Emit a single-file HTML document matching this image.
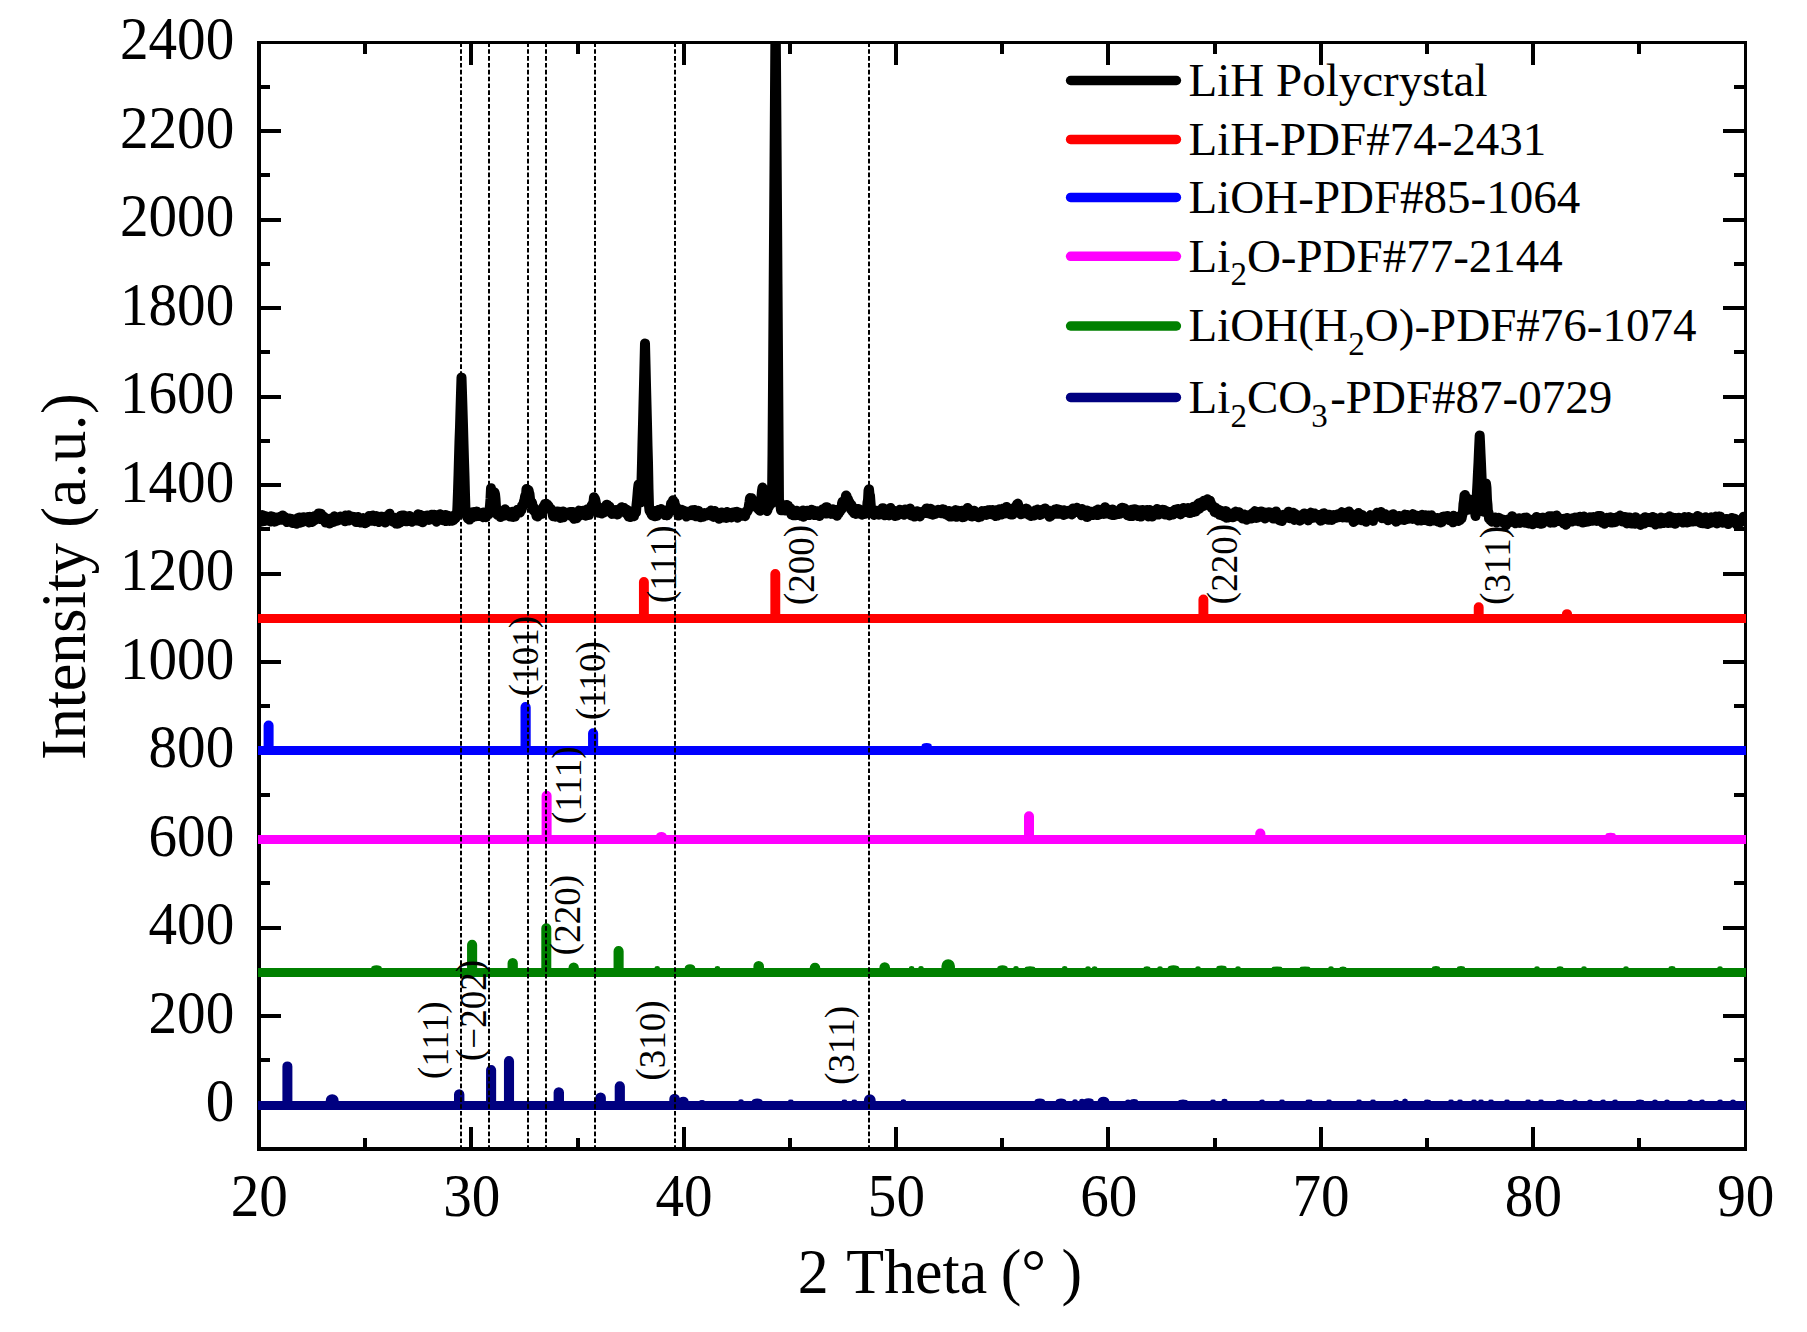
<!DOCTYPE html>
<html><head><meta charset="utf-8"><title>XRD</title>
<style>html,body{margin:0;padding:0;background:#fff}svg{display:block}</style></head>
<body>
<svg width="1807" height="1332" viewBox="0 0 1807 1332" font-family='"Liberation Serif", serif' fill="#000">
<rect x="0" y="0" width="1807" height="1332" fill="#fff"/>
<defs><clipPath id="cp"><rect x="258.0" y="41.0" width="1488.0" height="1110.0"/></clipPath></defs>
<path d="M257 41H1747V1151H257Z M261 44V1147H1744V44Z" fill="#000" fill-rule="evenodd" shape-rendering="crispEdges"/>
<path d="M363 1138h4V1148h-4Z M363 43h4V54h-4Z M469 1127h4V1148h-4Z M469 43h4V65h-4Z M576 1138h4V1148h-4Z M576 43h4V54h-4Z M682 1127h4V1148h-4Z M682 43h4V65h-4Z M788 1138h4V1148h-4Z M788 43h4V54h-4Z M894 1127h4V1148h-4Z M894 43h4V65h-4Z M1000 1138h4V1148h-4Z M1000 43h4V54h-4Z M1106 1127h4V1148h-4Z M1106 43h4V65h-4Z M1213 1138h4V1148h-4Z M1213 43h4V54h-4Z M1319 1127h4V1148h-4Z M1319 43h4V65h-4Z M1425 1138h4V1148h-4Z M1425 43h4V54h-4Z M1531 1127h4V1148h-4Z M1531 43h4V65h-4Z M1637 1138h4V1148h-4Z M1637 43h4V54h-4Z M260 1103v4H281v-4Z M1723 1103v4H1745v-4Z M260 1058v4H270v-4Z M1734 1058v4H1745v-4Z M260 1014v4H281v-4Z M1723 1014v4H1745v-4Z M260 970v4H270v-4Z M1734 970v4H1745v-4Z M260 926v4H281v-4Z M1723 926v4H1745v-4Z M260 881v4H270v-4Z M1734 881v4H1745v-4Z M260 837v4H281v-4Z M1723 837v4H1745v-4Z M260 793v4H270v-4Z M1734 793v4H1745v-4Z M260 749v4H281v-4Z M1723 749v4H1745v-4Z M260 704v4H270v-4Z M1734 704v4H1745v-4Z M260 660v4H281v-4Z M1723 660v4H1745v-4Z M260 616v4H270v-4Z M1734 616v4H1745v-4Z M260 572v4H281v-4Z M1723 572v4H1745v-4Z M260 527v4H270v-4Z M1734 527v4H1745v-4Z M260 483v4H281v-4Z M1723 483v4H1745v-4Z M260 439v4H270v-4Z M1734 439v4H1745v-4Z M260 395v4H281v-4Z M1723 395v4H1745v-4Z M260 350v4H270v-4Z M1734 350v4H1745v-4Z M260 306v4H281v-4Z M1723 306v4H1745v-4Z M260 262v4H270v-4Z M1734 262v4H1745v-4Z M260 218v4H281v-4Z M1723 218v4H1745v-4Z M260 173v4H270v-4Z M1734 173v4H1745v-4Z M260 129v4H281v-4Z M1723 129v4H1745v-4Z M260 85v4H270v-4Z M1734 85v4H1745v-4Z" fill="#000" shape-rendering="crispEdges"/>
<g font-size="60.8" text-anchor="middle">
<text transform="translate(259.3 1216.2) scale(0.94 1)">20</text>
<text transform="translate(471.7 1216.2) scale(0.94 1)">30</text>
<text transform="translate(684.0 1216.2) scale(0.94 1)">40</text>
<text transform="translate(896.4 1216.2) scale(0.94 1)">50</text>
<text transform="translate(1108.7 1216.2) scale(0.94 1)">60</text>
<text transform="translate(1321.1 1216.2) scale(0.94 1)">70</text>
<text transform="translate(1533.4 1216.2) scale(0.94 1)">80</text>
<text transform="translate(1745.8 1216.2) scale(0.94 1)">90</text>
</g>
<g font-size="60.8" text-anchor="end">
<text transform="translate(234.2 1121.3) scale(0.94 1)">0</text>
<text transform="translate(234.2 1032.8) scale(0.94 1)">200</text>
<text transform="translate(234.2 944.3) scale(0.94 1)">400</text>
<text transform="translate(234.2 855.8) scale(0.94 1)">600</text>
<text transform="translate(234.2 767.3) scale(0.94 1)">800</text>
<text transform="translate(234.2 678.7) scale(0.94 1)">1000</text>
<text transform="translate(234.2 590.2) scale(0.94 1)">1200</text>
<text transform="translate(234.2 501.7) scale(0.94 1)">1400</text>
<text transform="translate(234.2 413.2) scale(0.94 1)">1600</text>
<text transform="translate(234.2 324.7) scale(0.94 1)">1800</text>
<text transform="translate(234.2 236.1) scale(0.94 1)">2000</text>
<text transform="translate(234.2 147.6) scale(0.94 1)">2200</text>
<text transform="translate(234.2 59.1) scale(0.94 1)">2400</text>
</g>
<text transform="translate(940.0 1292.8) scale(0.975 1)" font-size="63.5" text-anchor="middle" xml:space="preserve">2 <tspan dx="2.1">Theta</tspan><tspan dx="-2.1"> (° )</tspan></text>
<text transform="translate(85.2 576.3) rotate(-90) scale(0.975 1)" font-size="64" text-anchor="middle" xml:space="preserve"><tspan letter-spacing="-0.175">Intensity </tspan><tspan letter-spacing="0.6">(a.u.)</tspan></text>
<g clip-path="url(#cp)" fill="none" stroke-linejoin="round" stroke-linecap="butt">
<path d="M259.0 519.5 L259.5 521.4 L260.0 520.8 L260.5 522.0 L261.0 520.4 L261.5 518.2 L262.0 518.6 L262.5 515.1 L263.0 521.2 L263.5 516.8 L264.0 517.1 L264.5 521.1 L265.0 515.9 L265.5 517.0 L266.0 518.2 L266.5 517.5 L267.0 519.1 L267.5 519.6 L268.0 520.5 L268.5 519.2 L269.0 520.8 L269.5 518.8 L270.0 520.5 L270.5 521.5 L271.0 516.2 L271.5 519.0 L272.0 520.0 L272.5 516.7 L273.0 516.9 L273.5 520.9 L274.0 519.1 L274.5 521.7 L275.0 520.1 L275.5 519.9 L276.0 519.0 L276.5 519.6 L277.0 517.5 L277.5 518.1 L278.0 520.4 L278.5 518.3 L279.0 519.6 L279.5 518.5 L280.0 517.8 L280.5 516.5 L281.0 519.8 L281.5 516.6 L282.0 519.0 L282.5 515.5 L283.0 519.2 L283.5 519.8 L284.0 518.2 L284.5 516.8 L285.0 519.9 L285.5 520.6 L286.0 519.5 L286.5 519.2 L287.0 522.1 L287.5 520.0 L288.0 519.3 L288.5 521.5 L289.0 519.7 L289.5 518.4 L290.0 521.4 L290.5 519.1 L291.0 521.7 L291.5 518.9 L292.0 521.0 L292.5 523.0 L293.0 521.7 L293.5 521.9 L294.0 521.8 L294.5 522.6 L295.0 521.0 L295.5 521.6 L296.0 520.2 L296.5 523.7 L297.0 518.6 L297.5 521.7 L298.0 518.1 L298.5 520.8 L299.0 522.1 L299.5 517.5 L300.0 522.8 L300.5 517.9 L301.0 518.3 L301.5 520.6 L302.0 518.1 L302.5 522.1 L303.0 521.3 L303.5 517.2 L304.0 517.6 L304.5 518.8 L305.0 520.8 L305.5 517.9 L306.0 518.4 L306.5 520.8 L307.0 517.7 L307.5 520.1 L308.0 517.0 L308.5 521.5 L309.0 522.4 L309.5 517.7 L310.0 516.8 L310.5 516.9 L311.0 521.9 L311.5 519.1 L312.0 522.0 L312.5 517.4 L313.0 517.8 L313.5 519.0 L314.0 520.8 L314.5 517.9 L315.0 515.9 L315.5 518.0 L316.0 517.2 L316.5 517.7 L317.0 516.3 L317.5 515.3 L318.0 516.5 L318.5 513.4 L319.0 517.1 L319.5 518.9 L320.0 517.7 L320.5 514.9 L321.0 513.8 L321.5 519.2 L322.0 515.8 L322.5 516.5 L323.0 517.5 L323.5 516.3 L324.0 517.9 L324.5 521.1 L325.0 517.8 L325.5 522.5 L326.0 520.4 L326.5 520.7 L327.0 522.2 L327.5 522.3 L328.0 522.6 L328.5 521.7 L329.0 519.5 L329.5 523.5 L330.0 519.9 L330.5 518.4 L331.0 521.4 L331.5 520.6 L332.0 519.1 L332.5 519.1 L333.0 519.9 L333.5 521.9 L334.0 518.5 L334.5 516.3 L335.0 517.7 L335.5 519.9 L336.0 518.7 L336.5 517.9 L337.0 520.7 L337.5 520.7 L338.0 519.0 L338.5 519.9 L339.0 518.2 L339.5 518.2 L340.0 518.6 L340.5 516.6 L341.0 519.6 L341.5 518.8 L342.0 517.9 L342.5 519.1 L343.0 519.1 L343.5 517.5 L344.0 517.8 L344.5 517.4 L345.0 521.3 L345.5 515.6 L346.0 518.5 L346.5 520.2 L347.0 516.5 L347.5 516.7 L348.0 516.5 L348.5 515.2 L349.0 520.4 L349.5 517.7 L350.0 516.0 L350.5 516.9 L351.0 518.5 L351.5 517.7 L352.0 516.7 L352.5 519.4 L353.0 516.8 L353.5 517.7 L354.0 518.8 L354.5 517.1 L355.0 518.6 L355.5 517.3 L356.0 522.1 L356.5 518.0 L357.0 520.2 L357.5 517.4 L358.0 517.0 L358.5 519.0 L359.0 518.6 L359.5 518.6 L360.0 519.2 L360.5 520.8 L361.0 522.6 L361.5 522.6 L362.0 519.1 L362.5 522.5 L363.0 522.4 L363.5 518.1 L364.0 518.6 L364.5 519.4 L365.0 523.3 L365.5 519.6 L366.0 519.4 L366.5 522.4 L367.0 519.3 L367.5 519.2 L368.0 520.4 L368.5 519.4 L369.0 516.1 L369.5 516.4 L370.0 520.0 L370.5 515.9 L371.0 520.8 L371.5 518.2 L372.0 518.8 L372.5 518.7 L373.0 515.4 L373.5 516.8 L374.0 516.2 L374.5 518.7 L375.0 521.2 L375.5 518.1 L376.0 518.8 L376.5 516.1 L377.0 518.3 L377.5 518.6 L378.0 518.9 L378.5 520.4 L379.0 522.0 L379.5 519.4 L380.0 520.2 L380.5 516.7 L381.0 520.7 L381.5 519.6 L382.0 516.7 L382.5 520.2 L383.0 518.3 L383.5 521.5 L384.0 520.4 L384.5 519.6 L385.0 522.5 L385.5 518.7 L386.0 518.1 L386.5 518.3 L387.0 518.0 L387.5 515.7 L388.0 518.1 L388.5 517.5 L389.0 515.6 L389.5 513.7 L390.0 518.9 L390.5 519.3 L391.0 518.8 L391.5 519.3 L392.0 521.2 L392.5 518.8 L393.0 521.6 L393.5 518.6 L394.0 517.5 L394.5 519.5 L395.0 519.2 L395.5 520.9 L396.0 523.6 L396.5 521.1 L397.0 522.3 L397.5 523.6 L398.0 523.5 L398.5 520.1 L399.0 518.4 L399.5 522.8 L400.0 517.1 L400.5 515.9 L401.0 515.7 L401.5 520.8 L402.0 515.6 L402.5 517.8 L403.0 517.9 L403.5 520.6 L404.0 515.6 L404.5 518.4 L405.0 519.0 L405.5 521.3 L406.0 518.4 L406.5 519.5 L407.0 518.6 L407.5 521.2 L408.0 520.9 L408.5 518.2 L409.0 519.9 L409.5 515.9 L410.0 518.7 L410.5 516.8 L411.0 517.7 L411.5 520.3 L412.0 521.7 L412.5 518.8 L413.0 518.1 L413.5 517.6 L414.0 519.5 L414.5 517.6 L415.0 519.6 L415.5 520.5 L416.0 518.6 L416.5 516.7 L417.0 518.8 L417.5 516.1 L418.0 514.3 L418.5 519.7 L419.0 520.9 L419.5 520.2 L420.0 517.2 L420.5 515.0 L421.0 517.1 L421.5 520.1 L422.0 518.6 L422.5 522.3 L423.0 518.4 L423.5 521.0 L424.0 520.4 L424.5 520.2 L425.0 516.6 L425.5 518.6 L426.0 518.9 L426.5 517.4 L427.0 515.4 L427.5 516.9 L428.0 516.0 L428.5 518.6 L429.0 519.9 L429.5 518.7 L430.0 518.8 L430.5 517.7 L431.0 518.3 L431.5 514.8 L432.0 517.9 L432.5 519.3 L433.0 516.6 L433.5 518.9 L434.0 514.8 L434.5 517.9 L435.0 517.5 L435.5 518.9 L436.0 518.5 L436.5 521.7 L437.0 515.3 L437.5 515.6 L438.0 517.0 L438.5 518.3 L439.0 516.6 L439.5 516.2 L440.0 514.2 L440.5 514.3 L441.0 515.0 L441.5 519.5 L442.0 515.1 L442.5 520.2 L443.0 519.1 L443.5 516.7 L444.0 519.1 L444.5 519.7 L445.0 515.6 L445.5 515.1 L446.0 521.1 L446.5 516.7 L447.0 520.4 L447.5 520.1 L448.0 515.8 L448.5 520.0 L449.0 519.7 L449.5 520.9 L450.0 518.1 L450.5 518.8 L451.0 518.5 L451.5 517.2 L452.0 520.7 L452.5 519.4 L453.0 520.4 L453.5 518.0 L454.0 519.4 L454.5 515.1 L455.0 515.5 L455.5 518.2 L456.0 515.5 L456.5 514.8 L457.0 515.5 L457.5 505.1 L458.0 491.5 L458.5 475.3 L459.0 457.5 L459.5 440.4 L460.0 427.4 L460.5 409.9 L461.0 393.2 L461.5 377.4 L461.5 377.4 L462.0 393.0 L462.5 408.8 L463.0 425.4 L463.5 443.3 L464.0 460.5 L464.5 475.8 L465.0 494.7 L465.5 510.6 L466.0 514.0 L466.5 514.7 L467.0 516.9 L467.5 517.7 L468.0 518.5 L468.5 513.8 L469.0 513.3 L469.5 519.6 L470.0 515.6 L470.5 517.8 L471.0 515.7 L471.5 512.6 L472.0 517.6 L472.5 515.4 L473.0 517.0 L473.5 515.1 L474.0 511.9 L474.5 513.7 L475.0 515.7 L475.5 512.5 L476.0 514.2 L476.5 516.2 L477.0 511.6 L477.5 513.3 L478.0 514.4 L478.5 515.9 L479.0 514.0 L479.5 512.9 L480.0 515.5 L480.5 513.4 L481.0 515.5 L481.5 515.5 L482.0 514.5 L482.5 516.5 L483.0 517.2 L483.5 512.4 L484.0 515.9 L484.5 514.6 L485.0 514.3 L485.5 515.1 L486.0 517.2 L486.5 514.7 L487.0 514.4 L487.5 512.5 L488.0 514.5 L488.5 514.4 L489.0 511.4 L489.5 509.7 L490.0 505.3 L490.5 498.8 L491.0 488.2 L491.5 490.5 L492.0 494.0 L492.5 499.5 L493.0 501.3 L493.5 498.5 L494.0 493.5 L494.5 492.4 L495.0 494.1 L495.5 498.8 L496.0 506.8 L496.5 511.5 L497.0 512.4 L497.5 514.9 L498.0 512.4 L498.5 510.7 L499.0 513.8 L499.5 514.5 L500.0 516.7 L500.5 517.1 L501.0 514.4 L501.5 516.3 L502.0 515.8 L502.5 513.9 L503.0 514.8 L503.5 513.7 L504.0 515.7 L504.5 510.6 L505.0 509.2 L505.5 512.7 L506.0 514.2 L506.5 514.5 L507.0 511.6 L507.5 513.9 L508.0 512.0 L508.5 514.9 L509.0 512.5 L509.5 512.3 L510.0 516.5 L510.5 512.6 L511.0 512.4 L511.5 516.7 L512.0 515.4 L512.5 511.7 L513.0 517.0 L513.5 512.1 L514.0 513.2 L514.5 513.6 L515.0 516.6 L515.5 513.2 L516.0 514.7 L516.5 512.6 L517.0 513.6 L517.5 509.7 L518.0 512.1 L518.5 510.7 L519.0 509.5 L519.5 511.6 L520.0 512.6 L520.5 511.0 L521.0 508.9 L521.5 510.1 L522.0 505.7 L522.5 507.3 L523.0 506.2 L523.5 503.5 L524.0 501.3 L524.5 500.0 L525.0 496.7 L525.5 495.3 L526.0 495.3 L526.5 489.0 L527.0 493.6 L527.5 491.7 L528.0 491.4 L528.5 489.9 L529.0 492.5 L529.5 494.1 L530.0 498.7 L530.5 500.8 L531.0 504.0 L531.5 504.0 L532.0 502.5 L532.5 505.5 L533.0 508.0 L533.5 510.4 L534.0 507.8 L534.5 511.0 L535.0 512.1 L535.5 511.2 L536.0 512.4 L536.5 516.1 L537.0 513.2 L537.5 516.6 L538.0 514.1 L538.5 512.4 L539.0 514.9 L539.5 513.0 L540.0 513.6 L540.5 510.2 L541.0 513.7 L541.5 511.3 L542.0 513.8 L542.5 511.0 L543.0 509.0 L543.5 506.6 L544.0 507.5 L544.5 505.7 L545.0 503.9 L545.5 507.8 L546.0 503.8 L546.5 505.4 L547.0 506.4 L547.5 504.6 L548.0 505.4 L548.5 505.8 L549.0 507.4 L549.5 507.6 L550.0 508.5 L550.5 508.9 L551.0 509.0 L551.5 510.3 L552.0 511.0 L552.5 513.4 L553.0 516.2 L553.5 512.5 L554.0 513.4 L554.5 512.9 L555.0 514.7 L555.5 516.7 L556.0 514.1 L556.5 515.3 L557.0 511.5 L557.5 514.5 L558.0 515.7 L558.5 513.6 L559.0 511.7 L559.5 515.6 L560.0 514.5 L560.5 517.9 L561.0 513.6 L561.5 514.4 L562.0 513.9 L562.5 514.9 L563.0 511.5 L563.5 517.2 L564.0 515.8 L564.5 514.1 L565.0 513.7 L565.5 515.2 L566.0 514.8 L566.5 513.2 L567.0 513.7 L567.5 514.6 L568.0 513.2 L568.5 513.5 L569.0 513.4 L569.5 513.6 L570.0 511.9 L570.5 512.8 L571.0 515.4 L571.5 516.3 L572.0 515.0 L572.5 512.0 L573.0 512.6 L573.5 516.3 L574.0 518.8 L574.5 517.9 L575.0 515.2 L575.5 514.8 L576.0 514.5 L576.5 518.3 L577.0 515.2 L577.5 512.8 L578.0 516.0 L578.5 515.5 L579.0 510.6 L579.5 512.4 L580.0 515.4 L580.5 515.1 L581.0 510.9 L581.5 513.1 L582.0 514.6 L582.5 513.4 L583.0 510.7 L583.5 512.3 L584.0 513.9 L584.5 513.5 L585.0 510.8 L585.5 515.7 L586.0 512.9 L586.5 509.7 L587.0 511.9 L587.5 509.2 L588.0 511.0 L588.5 512.0 L589.0 514.9 L589.5 511.6 L590.0 511.2 L590.5 510.9 L591.0 508.7 L591.5 505.6 L592.0 507.5 L592.5 504.1 L593.0 504.2 L593.5 501.7 L594.0 497.2 L594.5 498.1 L595.0 499.1 L595.5 500.7 L596.0 504.1 L596.5 504.9 L597.0 505.6 L597.5 511.5 L598.0 512.7 L598.5 511.4 L599.0 510.2 L599.5 511.6 L600.0 511.8 L600.5 511.7 L601.0 511.5 L601.5 513.6 L602.0 513.3 L602.5 513.0 L603.0 509.7 L603.5 511.0 L604.0 512.6 L604.5 508.9 L605.0 506.7 L605.5 509.8 L606.0 506.7 L606.5 504.7 L607.0 507.6 L607.5 505.0 L608.0 506.3 L608.5 509.6 L609.0 507.3 L609.5 506.5 L610.0 511.3 L610.5 512.2 L611.0 508.6 L611.5 510.9 L612.0 513.9 L612.5 512.6 L613.0 513.8 L613.5 512.2 L614.0 511.5 L614.5 511.8 L615.0 512.5 L615.5 513.6 L616.0 510.1 L616.5 510.2 L617.0 513.4 L617.5 514.5 L618.0 511.7 L618.5 512.5 L619.0 510.0 L619.5 509.0 L620.0 511.3 L620.5 510.4 L621.0 509.1 L621.5 507.2 L622.0 509.3 L622.5 508.7 L623.0 508.1 L623.5 508.2 L624.0 507.9 L624.5 509.9 L625.0 510.1 L625.5 513.1 L626.0 513.3 L626.5 511.3 L627.0 509.8 L627.5 513.9 L628.0 512.1 L628.5 516.5 L629.0 511.2 L629.5 513.4 L630.0 517.1 L630.5 514.3 L631.0 515.5 L631.5 515.2 L632.0 512.9 L632.5 515.1 L633.0 511.7 L633.5 512.6 L634.0 516.2 L634.5 512.5 L635.0 513.2 L635.5 509.7 L636.0 512.5 L636.5 505.1 L637.0 500.5 L637.5 494.8 L638.0 488.5 L638.5 484.5 L639.0 487.7 L639.5 492.0 L640.0 498.6 L640.5 502.3 L641.0 498.2 L641.5 481.4 L642.0 463.1 L642.5 442.2 L643.0 423.9 L643.5 403.7 L644.0 384.5 L644.5 363.8 L645.0 343.4 L645.0 343.4 L645.5 363.5 L646.0 384.9 L646.5 404.5 L647.0 424.0 L647.5 445.4 L648.0 463.0 L648.5 488.3 L649.0 505.8 L649.5 510.6 L650.0 511.3 L650.5 512.4 L651.0 512.3 L651.5 514.2 L652.0 515.1 L652.5 515.4 L653.0 514.6 L653.5 512.1 L654.0 516.0 L654.5 516.3 L655.0 511.0 L655.5 513.2 L656.0 513.6 L656.5 512.7 L657.0 515.9 L657.5 514.6 L658.0 513.6 L658.5 510.9 L659.0 509.7 L659.5 510.9 L660.0 511.0 L660.5 510.7 L661.0 509.1 L661.5 509.4 L662.0 511.4 L662.5 512.8 L663.0 511.3 L663.5 511.9 L664.0 512.4 L664.5 512.6 L665.0 515.1 L665.5 511.6 L666.0 513.6 L666.5 510.8 L667.0 515.4 L667.5 514.4 L668.0 514.6 L668.5 512.4 L669.0 511.3 L669.5 508.2 L670.0 510.0 L670.5 510.7 L671.0 503.5 L671.5 508.4 L672.0 502.2 L672.5 503.4 L673.0 500.2 L673.5 501.1 L674.0 503.3 L674.5 502.3 L675.0 507.1 L675.5 505.5 L676.0 508.1 L676.5 507.3 L677.0 508.9 L677.5 510.3 L678.0 512.9 L678.5 515.6 L679.0 512.9 L679.5 510.5 L680.0 511.7 L680.5 510.0 L681.0 513.2 L681.5 512.1 L682.0 509.8 L682.5 511.0 L683.0 513.4 L683.5 512.6 L684.0 510.9 L684.5 513.5 L685.0 513.2 L685.5 511.7 L686.0 513.4 L686.5 516.6 L687.0 511.7 L687.5 515.9 L688.0 514.0 L688.5 515.5 L689.0 515.1 L689.5 514.8 L690.0 513.8 L690.5 513.8 L691.0 514.7 L691.5 514.1 L692.0 510.3 L692.5 513.7 L693.0 515.2 L693.5 514.5 L694.0 513.3 L694.5 509.9 L695.0 514.4 L695.5 514.6 L696.0 516.3 L696.5 511.9 L697.0 513.4 L697.5 512.9 L698.0 513.5 L698.5 510.8 L699.0 513.2 L699.5 513.4 L700.0 513.6 L700.5 517.3 L701.0 513.3 L701.5 513.7 L702.0 516.6 L702.5 513.5 L703.0 516.8 L703.5 515.4 L704.0 513.3 L704.5 513.0 L705.0 514.5 L705.5 513.8 L706.0 514.3 L706.5 513.1 L707.0 515.4 L707.5 513.1 L708.0 513.6 L708.5 514.1 L709.0 512.0 L709.5 513.6 L710.0 513.6 L710.5 511.2 L711.0 510.6 L711.5 516.0 L712.0 513.2 L712.5 513.5 L713.0 512.7 L713.5 516.9 L714.0 513.6 L714.5 510.9 L715.0 515.1 L715.5 512.4 L716.0 515.2 L716.5 514.3 L717.0 517.1 L717.5 515.9 L718.0 514.6 L718.5 518.2 L719.0 518.8 L719.5 514.6 L720.0 517.5 L720.5 516.0 L721.0 515.9 L721.5 512.4 L722.0 512.7 L722.5 517.0 L723.0 514.6 L723.5 513.3 L724.0 517.6 L724.5 516.8 L725.0 516.0 L725.5 513.0 L726.0 515.0 L726.5 517.9 L727.0 512.1 L727.5 512.4 L728.0 513.9 L728.5 517.2 L729.0 515.8 L729.5 516.1 L730.0 515.4 L730.5 515.0 L731.0 516.8 L731.5 517.4 L732.0 514.7 L732.5 516.0 L733.0 512.4 L733.5 516.1 L734.0 513.2 L734.5 513.4 L735.0 512.3 L735.5 511.9 L736.0 512.6 L736.5 512.1 L737.0 511.8 L737.5 517.7 L738.0 515.6 L738.5 516.9 L739.0 516.2 L739.5 512.7 L740.0 515.6 L740.5 513.9 L741.0 514.0 L741.5 515.2 L742.0 515.5 L742.5 515.0 L743.0 514.8 L743.5 513.6 L744.0 513.9 L744.5 515.8 L745.0 516.2 L745.5 514.6 L746.0 511.5 L746.5 511.9 L747.0 512.0 L747.5 511.0 L748.0 510.0 L748.5 508.4 L749.0 505.1 L749.5 502.0 L750.0 498.1 L750.5 502.0 L751.0 500.7 L751.5 498.2 L752.0 500.6 L752.5 500.8 L753.0 501.6 L753.5 506.3 L754.0 502.7 L754.5 506.4 L755.0 502.7 L755.5 501.3 L756.0 503.0 L756.5 506.5 L757.0 504.2 L757.5 506.8 L758.0 503.9 L758.5 509.3 L759.0 506.2 L759.5 508.7 L760.0 510.8 L760.5 505.6 L761.0 503.6 L761.5 496.6 L762.0 490.5 L762.5 487.5 L763.0 488.7 L763.5 490.7 L764.0 496.3 L764.5 500.2 L765.0 502.9 L765.5 508.8 L766.0 509.1 L766.5 510.0 L767.0 511.0 L767.5 509.9 L768.0 506.0 L768.5 507.3 L769.0 506.6 L769.5 504.8 L770.0 501.3 L770.5 502.2 L771.0 502.8 L771.5 503.6 L772.0 500.8 L772.5 454.5 L773.0 386.5 L773.5 311.3 L774.0 238.0 L774.5 165.9 L775.0 93.1 L775.5 20.3 L775.6 5.8 L776.0 63.7 L776.5 137.1 L777.0 209.6 L777.5 283.6 L778.0 354.0 L778.5 429.1 L779.0 502.9 L779.5 503.8 L780.0 502.5 L780.5 505.7 L781.0 510.3 L781.5 508.6 L782.0 507.5 L782.5 507.6 L783.0 506.6 L783.5 509.7 L784.0 507.8 L784.5 508.4 L785.0 510.6 L785.5 510.4 L786.0 509.5 L786.5 505.0 L787.0 506.9 L787.5 510.2 L788.0 505.8 L788.5 510.6 L789.0 508.6 L789.5 510.9 L790.0 508.9 L790.5 508.2 L791.0 509.2 L791.5 514.6 L792.0 511.9 L792.5 510.9 L793.0 515.3 L793.5 511.3 L794.0 514.2 L794.5 515.3 L795.0 515.2 L795.5 515.3 L796.0 514.0 L796.5 510.7 L797.0 513.8 L797.5 512.8 L798.0 512.1 L798.5 513.1 L799.0 513.5 L799.5 512.4 L800.0 515.0 L800.5 515.7 L801.0 513.3 L801.5 512.4 L802.0 510.9 L802.5 514.6 L803.0 510.5 L803.5 516.8 L804.0 515.5 L804.5 512.5 L805.0 514.7 L805.5 511.6 L806.0 511.0 L806.5 514.4 L807.0 510.8 L807.5 513.0 L808.0 512.1 L808.5 515.1 L809.0 512.6 L809.5 515.0 L810.0 513.8 L810.5 510.8 L811.0 510.3 L811.5 509.7 L812.0 513.1 L812.5 510.2 L813.0 511.9 L813.5 510.5 L814.0 512.6 L814.5 515.1 L815.0 512.2 L815.5 512.8 L816.0 513.1 L816.5 514.5 L817.0 511.2 L817.5 514.2 L818.0 513.8 L818.5 512.0 L819.0 512.0 L819.5 516.1 L820.0 515.0 L820.5 514.3 L821.0 511.7 L821.5 512.3 L822.0 510.2 L822.5 509.3 L823.0 511.2 L823.5 510.6 L824.0 508.9 L824.5 508.6 L825.0 511.3 L825.5 509.5 L826.0 507.2 L826.5 513.6 L827.0 507.3 L827.5 510.9 L828.0 508.9 L828.5 512.3 L829.0 511.3 L829.5 513.3 L830.0 511.2 L830.5 509.8 L831.0 513.9 L831.5 510.9 L832.0 510.4 L832.5 510.4 L833.0 509.3 L833.5 511.4 L834.0 514.2 L834.5 514.2 L835.0 512.3 L835.5 513.4 L836.0 514.0 L836.5 511.6 L837.0 515.8 L837.5 513.4 L838.0 509.7 L838.5 513.5 L839.0 510.0 L839.5 511.6 L840.0 511.5 L840.5 508.6 L841.0 508.7 L841.5 509.7 L842.0 503.4 L842.5 501.8 L843.0 503.5 L843.5 502.1 L844.0 504.8 L844.5 502.3 L845.0 500.6 L845.5 498.7 L846.0 495.5 L846.5 495.9 L847.0 498.1 L847.5 499.6 L848.0 499.2 L848.5 501.2 L849.0 503.5 L849.5 502.1 L850.0 503.9 L850.5 504.1 L851.0 509.4 L851.5 505.2 L852.0 510.3 L852.5 511.4 L853.0 507.5 L853.5 510.0 L854.0 513.2 L854.5 509.6 L855.0 510.3 L855.5 511.3 L856.0 513.9 L856.5 512.6 L857.0 510.2 L857.5 509.0 L858.0 508.9 L858.5 512.5 L859.0 509.1 L859.5 511.2 L860.0 513.7 L860.5 510.5 L861.0 512.3 L861.5 512.9 L862.0 514.7 L862.5 510.7 L863.0 513.5 L863.5 513.2 L864.0 513.5 L864.5 510.2 L865.0 513.9 L865.5 510.9 L866.0 511.3 L866.5 508.1 L867.0 510.1 L867.5 502.3 L868.0 500.2 L868.5 490.7 L869.0 489.2 L869.5 494.5 L870.0 495.6 L870.5 502.3 L871.0 508.0 L871.5 508.1 L872.0 509.4 L872.5 511.2 L873.0 514.0 L873.5 513.1 L874.0 514.9 L874.5 511.9 L875.0 511.6 L875.5 510.4 L876.0 512.1 L876.5 511.6 L877.0 512.6 L877.5 511.2 L878.0 511.7 L878.5 512.4 L879.0 514.7 L879.5 512.0 L880.0 511.3 L880.5 514.0 L881.0 514.3 L881.5 511.0 L882.0 510.9 L882.5 508.3 L883.0 508.3 L883.5 511.3 L884.0 514.2 L884.5 515.2 L885.0 513.7 L885.5 511.6 L886.0 513.8 L886.5 510.2 L887.0 512.9 L887.5 510.8 L888.0 512.8 L888.5 515.2 L889.0 515.4 L889.5 512.0 L890.0 512.0 L890.5 507.9 L891.0 509.5 L891.5 513.6 L892.0 513.0 L892.5 512.6 L893.0 512.2 L893.5 514.8 L894.0 511.6 L894.5 512.0 L895.0 516.0 L895.5 511.1 L896.0 513.6 L896.5 512.0 L897.0 515.5 L897.5 512.0 L898.0 511.8 L898.5 511.8 L899.0 513.9 L899.5 510.5 L900.0 509.7 L900.5 512.4 L901.0 512.1 L901.5 513.9 L902.0 512.3 L902.5 511.8 L903.0 513.6 L903.5 513.8 L904.0 514.8 L904.5 512.9 L905.0 509.5 L905.5 512.3 L906.0 512.2 L906.5 511.8 L907.0 512.8 L907.5 511.1 L908.0 513.6 L908.5 510.8 L909.0 514.0 L909.5 509.3 L910.0 508.5 L910.5 509.9 L911.0 515.4 L911.5 511.8 L912.0 512.4 L912.5 513.4 L913.0 512.3 L913.5 513.7 L914.0 513.5 L914.5 516.6 L915.0 515.4 L915.5 513.6 L916.0 514.4 L916.5 514.2 L917.0 511.2 L917.5 515.5 L918.0 512.4 L918.5 515.3 L919.0 514.1 L919.5 515.5 L920.0 516.4 L920.5 514.5 L921.0 512.2 L921.5 512.2 L922.0 513.7 L922.5 511.6 L923.0 511.5 L923.5 511.9 L924.0 511.3 L924.5 512.9 L925.0 511.0 L925.5 511.9 L926.0 510.2 L926.5 508.4 L927.0 512.9 L927.5 513.2 L928.0 510.4 L928.5 512.9 L929.0 512.1 L929.5 509.4 L930.0 513.9 L930.5 508.7 L931.0 511.7 L931.5 513.2 L932.0 509.7 L932.5 514.7 L933.0 510.4 L933.5 513.8 L934.0 510.8 L934.5 512.3 L935.0 510.7 L935.5 513.9 L936.0 511.3 L936.5 512.3 L937.0 511.6 L937.5 510.6 L938.0 509.8 L938.5 511.2 L939.0 512.5 L939.5 512.7 L940.0 512.3 L940.5 511.3 L941.0 513.2 L941.5 510.3 L942.0 512.3 L942.5 509.3 L943.0 511.2 L943.5 512.1 L944.0 509.7 L944.5 510.1 L945.0 514.0 L945.5 513.1 L946.0 514.3 L946.5 514.5 L947.0 513.7 L947.5 514.2 L948.0 513.6 L948.5 515.9 L949.0 510.9 L949.5 513.9 L950.0 516.5 L950.5 516.4 L951.0 515.1 L951.5 514.3 L952.0 516.4 L952.5 514.3 L953.0 512.2 L953.5 516.2 L954.0 513.0 L954.5 513.8 L955.0 510.3 L955.5 510.1 L956.0 514.3 L956.5 516.8 L957.0 510.5 L957.5 512.9 L958.0 515.0 L958.5 514.3 L959.0 514.0 L959.5 513.8 L960.0 512.0 L960.5 515.9 L961.0 515.7 L961.5 514.7 L962.0 510.8 L962.5 517.3 L963.0 514.0 L963.5 515.0 L964.0 516.9 L964.5 515.9 L965.0 512.8 L965.5 514.5 L966.0 513.1 L966.5 510.5 L967.0 511.5 L967.5 507.9 L968.0 508.2 L968.5 511.8 L969.0 514.4 L969.5 510.2 L970.0 514.7 L970.5 513.1 L971.0 516.2 L971.5 512.5 L972.0 516.5 L972.5 514.3 L973.0 513.1 L973.5 514.2 L974.0 510.7 L974.5 515.0 L975.0 514.1 L975.5 516.1 L976.0 515.0 L976.5 512.6 L977.0 512.8 L977.5 514.8 L978.0 513.4 L978.5 517.2 L979.0 513.1 L979.5 515.5 L980.0 513.9 L980.5 516.7 L981.0 513.6 L981.5 513.6 L982.0 511.1 L982.5 513.6 L983.0 514.2 L983.5 512.7 L984.0 514.3 L984.5 511.0 L985.0 512.5 L985.5 513.7 L986.0 512.1 L986.5 514.9 L987.0 513.6 L987.5 510.9 L988.0 510.2 L988.5 511.9 L989.0 510.5 L989.5 511.2 L990.0 510.0 L990.5 513.8 L991.0 512.9 L991.5 513.3 L992.0 514.5 L992.5 509.9 L993.0 513.3 L993.5 512.8 L994.0 514.7 L994.5 514.4 L995.0 514.5 L995.5 516.0 L996.0 510.2 L996.5 511.2 L997.0 515.4 L997.5 515.5 L998.0 511.0 L998.5 514.4 L999.0 513.7 L999.5 509.2 L1000.0 510.5 L1000.5 512.2 L1001.0 511.4 L1001.5 514.6 L1002.0 512.5 L1002.5 512.9 L1003.0 509.7 L1003.5 508.4 L1004.0 509.4 L1004.5 513.1 L1005.0 513.4 L1005.5 508.6 L1006.0 509.9 L1006.5 506.9 L1007.0 512.7 L1007.5 508.0 L1008.0 512.4 L1008.5 513.4 L1009.0 508.7 L1009.5 509.8 L1010.0 513.1 L1010.5 514.5 L1011.0 511.1 L1011.5 510.1 L1012.0 512.7 L1012.5 514.4 L1013.0 509.7 L1013.5 510.0 L1014.0 513.2 L1014.5 510.5 L1015.0 507.2 L1015.5 507.0 L1016.0 506.1 L1016.5 505.8 L1017.0 504.3 L1017.5 504.9 L1018.0 503.6 L1018.5 509.7 L1019.0 511.2 L1019.5 511.7 L1020.0 512.0 L1020.5 512.5 L1021.0 514.3 L1021.5 511.8 L1022.0 510.1 L1022.5 513.9 L1023.0 511.2 L1023.5 511.1 L1024.0 512.2 L1024.5 510.6 L1025.0 510.8 L1025.5 508.7 L1026.0 513.4 L1026.5 508.6 L1027.0 513.9 L1027.5 509.4 L1028.0 510.9 L1028.5 512.0 L1029.0 514.9 L1029.5 514.0 L1030.0 513.0 L1030.5 511.7 L1031.0 516.1 L1031.5 514.2 L1032.0 514.9 L1032.5 513.6 L1033.0 512.8 L1033.5 514.9 L1034.0 514.0 L1034.5 515.4 L1035.0 513.5 L1035.5 510.2 L1036.0 514.2 L1036.5 512.7 L1037.0 512.2 L1037.5 509.5 L1038.0 511.2 L1038.5 513.4 L1039.0 512.1 L1039.5 514.0 L1040.0 514.9 L1040.5 513.8 L1041.0 512.0 L1041.5 514.4 L1042.0 514.0 L1042.5 512.5 L1043.0 509.4 L1043.5 509.9 L1044.0 513.4 L1044.5 511.2 L1045.0 508.4 L1045.5 511.3 L1046.0 511.9 L1046.5 513.3 L1047.0 513.2 L1047.5 513.5 L1048.0 511.8 L1048.5 510.5 L1049.0 512.8 L1049.5 516.8 L1050.0 511.5 L1050.5 516.1 L1051.0 511.5 L1051.5 511.7 L1052.0 514.0 L1052.5 511.9 L1053.0 512.6 L1053.5 510.6 L1054.0 512.8 L1054.5 514.0 L1055.0 509.5 L1055.5 513.3 L1056.0 513.0 L1056.5 513.8 L1057.0 509.1 L1057.5 513.8 L1058.0 509.7 L1058.5 511.3 L1059.0 510.8 L1059.5 509.8 L1060.0 510.2 L1060.5 510.6 L1061.0 512.6 L1061.5 513.9 L1062.0 512.2 L1062.5 514.3 L1063.0 513.2 L1063.5 515.0 L1064.0 510.2 L1064.5 512.9 L1065.0 512.4 L1065.5 512.7 L1066.0 513.1 L1066.5 514.0 L1067.0 512.7 L1067.5 513.3 L1068.0 511.6 L1068.5 511.7 L1069.0 510.6 L1069.5 513.6 L1070.0 512.9 L1070.5 513.7 L1071.0 510.3 L1071.5 510.9 L1072.0 514.5 L1072.5 513.2 L1073.0 508.4 L1073.5 512.3 L1074.0 511.4 L1074.5 509.9 L1075.0 509.8 L1075.5 508.5 L1076.0 509.0 L1076.5 508.5 L1077.0 507.8 L1077.5 509.4 L1078.0 508.6 L1078.5 511.7 L1079.0 512.5 L1079.5 510.5 L1080.0 510.4 L1080.5 512.5 L1081.0 511.4 L1081.5 515.2 L1082.0 509.0 L1082.5 509.3 L1083.0 510.5 L1083.5 513.6 L1084.0 514.3 L1084.5 512.1 L1085.0 513.2 L1085.5 512.7 L1086.0 514.3 L1086.5 516.8 L1087.0 510.5 L1087.5 517.0 L1088.0 515.8 L1088.5 513.3 L1089.0 514.8 L1089.5 513.9 L1090.0 514.8 L1090.5 514.7 L1091.0 515.2 L1091.5 511.7 L1092.0 514.7 L1092.5 512.3 L1093.0 512.9 L1093.5 515.0 L1094.0 512.6 L1094.5 513.9 L1095.0 513.9 L1095.5 513.3 L1096.0 510.5 L1096.5 513.5 L1097.0 512.6 L1097.5 515.1 L1098.0 509.6 L1098.5 513.3 L1099.0 510.3 L1099.5 510.4 L1100.0 514.2 L1100.5 510.8 L1101.0 512.6 L1101.5 511.4 L1102.0 509.4 L1102.5 510.7 L1103.0 510.1 L1103.5 510.4 L1104.0 513.9 L1104.5 511.4 L1105.0 507.2 L1105.5 513.6 L1106.0 511.1 L1106.5 512.1 L1107.0 513.6 L1107.5 509.2 L1108.0 511.7 L1108.5 511.0 L1109.0 511.0 L1109.5 511.3 L1110.0 512.4 L1110.5 514.6 L1111.0 514.0 L1111.5 513.2 L1112.0 514.9 L1112.5 509.4 L1113.0 512.6 L1113.5 513.1 L1114.0 512.9 L1114.5 514.9 L1115.0 512.4 L1115.5 514.7 L1116.0 511.7 L1116.5 513.4 L1117.0 512.4 L1117.5 511.8 L1118.0 513.3 L1118.5 513.4 L1119.0 510.5 L1119.5 513.9 L1120.0 511.4 L1120.5 511.8 L1121.0 508.2 L1121.5 511.1 L1122.0 507.7 L1122.5 512.5 L1123.0 509.2 L1123.5 509.8 L1124.0 510.4 L1124.5 508.3 L1125.0 511.1 L1125.5 509.0 L1126.0 511.2 L1126.5 513.5 L1127.0 514.6 L1127.5 515.2 L1128.0 512.3 L1128.5 511.0 L1129.0 513.9 L1129.5 516.0 L1130.0 511.4 L1130.5 515.7 L1131.0 512.8 L1131.5 509.8 L1132.0 513.1 L1132.5 516.1 L1133.0 514.2 L1133.5 514.7 L1134.0 513.3 L1134.5 509.2 L1135.0 509.2 L1135.5 510.4 L1136.0 511.7 L1136.5 510.7 L1137.0 511.2 L1137.5 514.5 L1138.0 516.0 L1138.5 510.2 L1139.0 511.5 L1139.5 513.4 L1140.0 513.2 L1140.5 510.3 L1141.0 516.6 L1141.5 514.6 L1142.0 513.8 L1142.5 509.9 L1143.0 513.6 L1143.5 510.7 L1144.0 513.9 L1144.5 513.5 L1145.0 513.0 L1145.5 513.8 L1146.0 511.9 L1146.5 513.4 L1147.0 509.9 L1147.5 514.6 L1148.0 512.8 L1148.5 516.4 L1149.0 513.4 L1149.5 509.9 L1150.0 516.1 L1150.5 511.8 L1151.0 511.1 L1151.5 513.2 L1152.0 515.8 L1152.5 516.6 L1153.0 512.6 L1153.5 513.7 L1154.0 513.6 L1154.5 511.7 L1155.0 511.8 L1155.5 512.3 L1156.0 512.4 L1156.5 514.4 L1157.0 509.1 L1157.5 513.1 L1158.0 512.8 L1158.5 514.6 L1159.0 511.1 L1159.5 511.0 L1160.0 511.8 L1160.5 510.4 L1161.0 510.2 L1161.5 510.1 L1162.0 510.3 L1162.5 509.7 L1163.0 510.8 L1163.5 510.7 L1164.0 511.0 L1164.5 510.1 L1165.0 514.6 L1165.5 513.5 L1166.0 512.9 L1166.5 511.0 L1167.0 514.3 L1167.5 512.7 L1168.0 513.0 L1168.5 513.5 L1169.0 513.2 L1169.5 515.4 L1170.0 512.0 L1170.5 512.3 L1171.0 513.7 L1171.5 512.8 L1172.0 513.9 L1172.5 514.2 L1173.0 514.6 L1173.5 513.3 L1174.0 510.5 L1174.5 510.3 L1175.0 509.8 L1175.5 512.6 L1176.0 510.2 L1176.5 509.2 L1177.0 509.2 L1177.5 513.0 L1178.0 510.2 L1178.5 509.0 L1179.0 513.7 L1179.5 513.1 L1180.0 514.0 L1180.5 514.4 L1181.0 513.4 L1181.5 513.0 L1182.0 512.2 L1182.5 510.3 L1183.0 508.3 L1183.5 507.9 L1184.0 511.6 L1184.5 512.2 L1185.0 510.5 L1185.5 508.9 L1186.0 511.6 L1186.5 510.3 L1187.0 510.4 L1187.5 509.6 L1188.0 508.0 L1188.5 508.2 L1189.0 510.8 L1189.5 513.0 L1190.0 513.0 L1190.5 509.3 L1191.0 510.4 L1191.5 509.3 L1192.0 509.6 L1192.5 510.0 L1193.0 510.8 L1193.5 506.7 L1194.0 511.9 L1194.5 508.4 L1195.0 506.7 L1195.5 511.6 L1196.0 506.6 L1196.5 508.0 L1197.0 506.5 L1197.5 509.8 L1198.0 504.0 L1198.5 507.4 L1199.0 503.2 L1199.5 508.6 L1200.0 508.2 L1200.5 506.1 L1201.0 502.5 L1201.5 505.8 L1202.0 506.6 L1202.5 503.7 L1203.0 502.5 L1203.5 506.0 L1204.0 500.7 L1204.5 502.6 L1205.0 502.9 L1205.5 503.1 L1206.0 504.7 L1206.5 502.0 L1207.0 499.9 L1207.5 499.2 L1208.0 501.6 L1208.5 502.8 L1209.0 504.1 L1209.5 503.9 L1210.0 500.7 L1210.5 505.0 L1211.0 503.3 L1211.5 507.8 L1212.0 505.4 L1212.5 506.0 L1213.0 506.1 L1213.5 509.6 L1214.0 508.0 L1214.5 512.0 L1215.0 511.6 L1215.5 507.7 L1216.0 510.3 L1216.5 512.9 L1217.0 512.9 L1217.5 513.0 L1218.0 512.7 L1218.5 509.6 L1219.0 510.1 L1219.5 514.8 L1220.0 512.4 L1220.5 513.9 L1221.0 515.3 L1221.5 511.0 L1222.0 511.1 L1222.5 515.3 L1223.0 513.2 L1223.5 513.6 L1224.0 516.3 L1224.5 513.6 L1225.0 514.0 L1225.5 514.7 L1226.0 511.1 L1226.5 517.7 L1227.0 515.5 L1227.5 514.0 L1228.0 517.5 L1228.5 513.8 L1229.0 514.4 L1229.5 513.6 L1230.0 515.6 L1230.5 514.7 L1231.0 516.7 L1231.5 515.0 L1232.0 516.9 L1232.5 517.3 L1233.0 517.2 L1233.5 517.1 L1234.0 516.3 L1234.5 514.2 L1235.0 512.1 L1235.5 515.5 L1236.0 511.6 L1236.5 514.5 L1237.0 513.4 L1237.5 513.3 L1238.0 513.5 L1238.5 514.8 L1239.0 512.2 L1239.5 514.9 L1240.0 516.7 L1240.5 516.3 L1241.0 517.1 L1241.5 514.5 L1242.0 515.0 L1242.5 518.4 L1243.0 516.3 L1243.5 516.0 L1244.0 517.7 L1244.5 514.5 L1245.0 516.2 L1245.5 517.5 L1246.0 516.6 L1246.5 519.7 L1247.0 517.7 L1247.5 518.5 L1248.0 515.3 L1248.5 516.8 L1249.0 516.7 L1249.5 517.6 L1250.0 517.4 L1250.5 516.2 L1251.0 516.8 L1251.5 518.5 L1252.0 514.8 L1252.5 513.1 L1253.0 516.4 L1253.5 516.8 L1254.0 514.3 L1254.5 515.9 L1255.0 511.1 L1255.5 515.4 L1256.0 514.3 L1256.5 517.9 L1257.0 515.1 L1257.5 517.7 L1258.0 514.0 L1258.5 513.6 L1259.0 513.0 L1259.5 511.8 L1260.0 513.0 L1260.5 516.3 L1261.0 511.5 L1261.5 514.8 L1262.0 517.0 L1262.5 515.6 L1263.0 516.4 L1263.5 516.2 L1264.0 516.6 L1264.5 512.4 L1265.0 518.4 L1265.5 516.1 L1266.0 514.2 L1266.5 514.5 L1267.0 514.6 L1267.5 516.0 L1268.0 512.4 L1268.5 512.3 L1269.0 512.3 L1269.5 516.7 L1270.0 513.5 L1270.5 515.8 L1271.0 513.7 L1271.5 516.0 L1272.0 515.3 L1272.5 514.9 L1273.0 518.4 L1273.5 516.3 L1274.0 514.0 L1274.5 518.6 L1275.0 513.3 L1275.5 512.5 L1276.0 511.4 L1276.5 517.5 L1277.0 515.0 L1277.5 515.6 L1278.0 517.5 L1278.5 516.3 L1279.0 518.1 L1279.5 520.4 L1280.0 518.2 L1280.5 519.6 L1281.0 518.7 L1281.5 518.7 L1282.0 521.1 L1282.5 519.4 L1283.0 518.8 L1283.5 514.8 L1284.0 516.2 L1284.5 516.3 L1285.0 517.3 L1285.5 517.6 L1286.0 516.7 L1286.5 515.6 L1287.0 516.2 L1287.5 515.9 L1288.0 516.7 L1288.5 511.7 L1289.0 517.0 L1289.5 518.3 L1290.0 517.4 L1290.5 514.6 L1291.0 513.8 L1291.5 515.5 L1292.0 518.3 L1292.5 516.4 L1293.0 512.7 L1293.5 512.9 L1294.0 516.9 L1294.5 519.9 L1295.0 514.0 L1295.5 516.1 L1296.0 517.6 L1296.5 518.3 L1297.0 519.6 L1297.5 515.1 L1298.0 518.5 L1298.5 517.2 L1299.0 520.1 L1299.5 519.4 L1300.0 520.7 L1300.5 516.2 L1301.0 516.2 L1301.5 516.7 L1302.0 516.8 L1302.5 515.9 L1303.0 514.5 L1303.5 515.5 L1304.0 513.4 L1304.5 518.3 L1305.0 515.6 L1305.5 514.3 L1306.0 517.2 L1306.5 514.1 L1307.0 517.9 L1307.5 516.6 L1308.0 520.4 L1308.5 518.0 L1309.0 515.2 L1309.5 518.1 L1310.0 516.4 L1310.5 517.2 L1311.0 512.6 L1311.5 514.7 L1312.0 514.7 L1312.5 517.9 L1313.0 513.5 L1313.5 516.3 L1314.0 515.5 L1314.5 513.4 L1315.0 515.2 L1315.5 517.6 L1316.0 516.4 L1316.5 516.7 L1317.0 517.1 L1317.5 517.7 L1318.0 518.2 L1318.5 517.6 L1319.0 515.0 L1319.5 517.4 L1320.0 517.9 L1320.5 520.7 L1321.0 515.6 L1321.5 520.2 L1322.0 516.0 L1322.5 519.8 L1323.0 513.5 L1323.5 515.9 L1324.0 513.2 L1324.5 513.5 L1325.0 515.3 L1325.5 517.1 L1326.0 514.7 L1326.5 516.7 L1327.0 514.7 L1327.5 519.4 L1328.0 515.3 L1328.5 519.8 L1329.0 519.8 L1329.5 514.8 L1330.0 517.6 L1330.5 515.7 L1331.0 519.4 L1331.5 517.2 L1332.0 519.9 L1332.5 516.2 L1333.0 515.9 L1333.5 515.0 L1334.0 516.7 L1334.5 517.2 L1335.0 516.6 L1335.5 517.0 L1336.0 517.9 L1336.5 516.3 L1337.0 515.1 L1337.5 514.2 L1338.0 514.8 L1338.5 514.9 L1339.0 517.2 L1339.5 516.8 L1340.0 513.5 L1340.5 515.9 L1341.0 513.1 L1341.5 516.5 L1342.0 512.1 L1342.5 517.4 L1343.0 515.5 L1343.5 516.6 L1344.0 516.2 L1344.5 514.5 L1345.0 516.7 L1345.5 516.3 L1346.0 517.4 L1346.5 516.7 L1347.0 517.4 L1347.5 515.6 L1348.0 512.0 L1348.5 515.4 L1349.0 511.5 L1349.5 512.5 L1350.0 514.2 L1350.5 513.0 L1351.0 514.4 L1351.5 517.8 L1352.0 515.5 L1352.5 515.7 L1353.0 515.7 L1353.5 521.9 L1354.0 518.1 L1354.5 519.1 L1355.0 518.9 L1355.5 520.6 L1356.0 516.9 L1356.5 515.7 L1357.0 516.1 L1357.5 515.0 L1358.0 513.5 L1358.5 513.0 L1359.0 516.4 L1359.5 515.8 L1360.0 519.6 L1360.5 516.3 L1361.0 517.0 L1361.5 520.3 L1362.0 515.1 L1362.5 519.9 L1363.0 517.0 L1363.5 516.6 L1364.0 519.6 L1364.5 519.1 L1365.0 516.8 L1365.5 519.4 L1366.0 521.8 L1366.5 520.4 L1367.0 519.0 L1367.5 517.6 L1368.0 518.3 L1368.5 519.2 L1369.0 517.8 L1369.5 518.9 L1370.0 519.8 L1370.5 515.1 L1371.0 518.2 L1371.5 518.8 L1372.0 517.4 L1372.5 516.7 L1373.0 520.9 L1373.5 517.8 L1374.0 517.8 L1374.5 516.7 L1375.0 517.0 L1375.5 516.6 L1376.0 516.6 L1376.5 513.5 L1377.0 512.8 L1377.5 514.2 L1378.0 514.4 L1378.5 513.7 L1379.0 516.0 L1379.5 514.6 L1380.0 516.1 L1380.5 515.3 L1381.0 511.9 L1381.5 516.1 L1382.0 518.2 L1382.5 516.1 L1383.0 515.9 L1383.5 514.2 L1384.0 517.1 L1384.5 514.9 L1385.0 513.9 L1385.5 517.7 L1386.0 518.9 L1386.5 516.9 L1387.0 517.0 L1387.5 516.0 L1388.0 520.2 L1388.5 517.8 L1389.0 516.3 L1389.5 516.2 L1390.0 516.9 L1390.5 518.7 L1391.0 515.5 L1391.5 514.9 L1392.0 517.2 L1392.5 516.5 L1393.0 514.2 L1393.5 517.1 L1394.0 517.0 L1394.5 517.2 L1395.0 518.5 L1395.5 518.9 L1396.0 521.7 L1396.5 519.7 L1397.0 519.9 L1397.5 517.3 L1398.0 517.9 L1398.5 516.3 L1399.0 515.9 L1399.5 518.4 L1400.0 519.8 L1400.5 517.6 L1401.0 516.8 L1401.5 517.0 L1402.0 517.5 L1402.5 516.0 L1403.0 516.3 L1403.5 517.9 L1404.0 520.1 L1404.5 517.6 L1405.0 514.6 L1405.5 519.5 L1406.0 518.6 L1406.5 516.8 L1407.0 516.7 L1407.5 515.1 L1408.0 516.6 L1408.5 517.5 L1409.0 518.7 L1409.5 517.4 L1410.0 515.5 L1410.5 516.5 L1411.0 517.4 L1411.5 518.4 L1412.0 517.8 L1412.5 518.9 L1413.0 514.1 L1413.5 517.6 L1414.0 517.8 L1414.5 515.6 L1415.0 517.9 L1415.5 516.7 L1416.0 515.6 L1416.5 515.7 L1417.0 519.3 L1417.5 519.4 L1418.0 520.4 L1418.5 519.7 L1419.0 519.0 L1419.5 515.9 L1420.0 517.3 L1420.5 517.0 L1421.0 520.6 L1421.5 515.6 L1422.0 514.8 L1422.5 515.4 L1423.0 519.3 L1423.5 516.4 L1424.0 519.2 L1424.5 517.0 L1425.0 520.0 L1425.5 515.3 L1426.0 517.4 L1426.5 519.4 L1427.0 517.8 L1427.5 516.5 L1428.0 520.9 L1428.5 515.6 L1429.0 516.6 L1429.5 520.3 L1430.0 521.3 L1430.5 518.0 L1431.0 515.5 L1431.5 515.4 L1432.0 516.2 L1432.5 517.8 L1433.0 520.6 L1433.5 520.1 L1434.0 520.4 L1434.5 517.9 L1435.0 520.4 L1435.5 520.5 L1436.0 520.6 L1436.5 518.9 L1437.0 518.0 L1437.5 520.8 L1438.0 521.6 L1438.5 518.2 L1439.0 519.4 L1439.5 521.0 L1440.0 522.0 L1440.5 522.6 L1441.0 519.7 L1441.5 522.2 L1442.0 517.6 L1442.5 516.7 L1443.0 519.0 L1443.5 520.2 L1444.0 516.4 L1444.5 518.5 L1445.0 518.7 L1445.5 517.9 L1446.0 518.0 L1446.5 519.3 L1447.0 516.5 L1447.5 516.0 L1448.0 518.0 L1448.5 519.1 L1449.0 516.6 L1449.5 520.3 L1450.0 519.6 L1450.5 517.8 L1451.0 518.8 L1451.5 517.6 L1452.0 520.4 L1452.5 519.4 L1453.0 522.3 L1453.5 515.8 L1454.0 516.5 L1454.5 517.7 L1455.0 519.4 L1455.5 517.6 L1456.0 516.9 L1456.5 519.1 L1457.0 517.7 L1457.5 519.2 L1458.0 520.6 L1458.5 521.0 L1459.0 516.4 L1459.5 518.0 L1460.0 520.1 L1460.5 518.7 L1461.0 517.1 L1461.5 518.8 L1462.0 516.3 L1462.5 514.4 L1463.0 511.3 L1463.5 503.8 L1464.0 501.0 L1464.5 495.5 L1465.0 494.9 L1465.5 498.9 L1466.0 498.1 L1466.5 502.0 L1467.0 505.4 L1467.5 509.9 L1468.0 507.9 L1468.5 505.1 L1469.0 502.4 L1469.5 499.4 L1470.0 501.6 L1470.5 500.1 L1471.0 500.5 L1471.5 501.7 L1472.0 501.3 L1472.5 504.6 L1473.0 503.0 L1473.5 508.4 L1474.0 508.3 L1474.5 508.4 L1475.0 511.5 L1475.5 516.0 L1476.0 509.7 L1476.5 501.2 L1477.0 491.6 L1477.5 482.4 L1478.0 471.9 L1478.5 462.5 L1479.0 450.5 L1479.5 439.8 L1479.7 435.4 L1480.0 441.8 L1480.5 452.9 L1481.0 463.7 L1481.5 475.5 L1482.0 487.2 L1482.5 494.9 L1483.0 507.3 L1483.5 511.7 L1484.0 511.8 L1484.5 498.2 L1485.0 491.0 L1485.5 485.4 L1486.0 483.5 L1486.5 487.9 L1487.0 500.0 L1487.5 504.8 L1488.0 513.9 L1488.5 512.4 L1489.0 518.5 L1489.5 518.9 L1490.0 518.9 L1490.5 520.3 L1491.0 518.4 L1491.5 519.1 L1492.0 521.7 L1492.5 518.0 L1493.0 519.7 L1493.5 520.0 L1494.0 520.2 L1494.5 520.2 L1495.0 517.5 L1495.5 520.6 L1496.0 521.0 L1496.5 522.6 L1497.0 521.5 L1497.5 518.8 L1498.0 519.2 L1498.5 517.8 L1499.0 518.8 L1499.5 518.3 L1500.0 521.5 L1500.5 520.3 L1501.0 520.9 L1501.5 519.4 L1502.0 520.1 L1502.5 521.6 L1503.0 519.5 L1503.5 522.3 L1504.0 523.2 L1504.5 520.8 L1505.0 522.0 L1505.5 520.6 L1506.0 525.2 L1506.5 522.9 L1507.0 523.9 L1507.5 521.1 L1508.0 519.4 L1508.5 520.4 L1509.0 522.5 L1509.5 522.3 L1510.0 520.2 L1510.5 518.3 L1511.0 518.8 L1511.5 520.0 L1512.0 516.2 L1512.5 520.0 L1513.0 517.2 L1513.5 519.7 L1514.0 521.1 L1514.5 520.7 L1515.0 520.8 L1515.5 523.3 L1516.0 520.3 L1516.5 520.6 L1517.0 519.6 L1517.5 521.7 L1518.0 522.7 L1518.5 521.2 L1519.0 518.3 L1519.5 522.4 L1520.0 522.9 L1520.5 520.2 L1521.0 521.5 L1521.5 522.0 L1522.0 520.5 L1522.5 522.3 L1523.0 521.7 L1523.5 519.1 L1524.0 517.7 L1524.5 518.8 L1525.0 522.7 L1525.5 521.9 L1526.0 518.9 L1526.5 517.4 L1527.0 522.1 L1527.5 520.9 L1528.0 522.2 L1528.5 523.5 L1529.0 521.5 L1529.5 521.3 L1530.0 520.0 L1530.5 521.9 L1531.0 519.9 L1531.5 523.6 L1532.0 521.1 L1532.5 524.3 L1533.0 520.5 L1533.5 521.7 L1534.0 519.2 L1534.5 522.1 L1535.0 518.8 L1535.5 522.6 L1536.0 521.1 L1536.5 516.9 L1537.0 517.5 L1537.5 520.4 L1538.0 519.9 L1538.5 523.2 L1539.0 518.4 L1539.5 519.8 L1540.0 520.3 L1540.5 520.9 L1541.0 523.8 L1541.5 520.5 L1542.0 517.7 L1542.5 523.5 L1543.0 521.3 L1543.5 517.7 L1544.0 519.1 L1544.5 519.6 L1545.0 520.3 L1545.5 521.4 L1546.0 519.4 L1546.5 518.7 L1547.0 517.8 L1547.5 519.2 L1548.0 519.6 L1548.5 520.3 L1549.0 516.3 L1549.5 517.9 L1550.0 520.4 L1550.5 522.7 L1551.0 521.2 L1551.5 516.3 L1552.0 516.3 L1552.5 520.5 L1553.0 519.6 L1553.5 519.6 L1554.0 522.6 L1554.5 517.3 L1555.0 521.4 L1555.5 519.2 L1556.0 517.7 L1556.5 515.4 L1557.0 516.2 L1557.5 521.1 L1558.0 518.4 L1558.5 519.7 L1559.0 519.4 L1559.5 518.3 L1560.0 520.4 L1560.5 519.7 L1561.0 519.2 L1561.5 519.3 L1562.0 518.9 L1562.5 521.1 L1563.0 520.6 L1563.5 523.3 L1564.0 520.9 L1564.5 519.9 L1565.0 518.5 L1565.5 523.1 L1566.0 524.8 L1566.5 521.4 L1567.0 518.0 L1567.5 522.8 L1568.0 519.5 L1568.5 521.8 L1569.0 520.9 L1569.5 521.4 L1570.0 520.0 L1570.5 519.1 L1571.0 521.5 L1571.5 518.9 L1572.0 521.6 L1572.5 518.3 L1573.0 519.6 L1573.5 517.9 L1574.0 520.9 L1574.5 517.8 L1575.0 517.5 L1575.5 520.7 L1576.0 519.7 L1576.5 519.0 L1577.0 517.5 L1577.5 519.5 L1578.0 520.6 L1578.5 521.3 L1579.0 518.8 L1579.5 521.1 L1580.0 516.8 L1580.5 520.0 L1581.0 518.0 L1581.5 520.8 L1582.0 518.6 L1582.5 522.6 L1583.0 519.8 L1583.5 520.2 L1584.0 516.5 L1584.5 517.2 L1585.0 521.7 L1585.5 518.6 L1586.0 521.9 L1586.5 518.5 L1587.0 520.9 L1587.5 518.2 L1588.0 520.5 L1588.5 521.0 L1589.0 521.4 L1589.5 518.4 L1590.0 517.3 L1590.5 520.7 L1591.0 520.1 L1591.5 520.8 L1592.0 517.2 L1592.5 520.8 L1593.0 518.9 L1593.5 517.1 L1594.0 518.1 L1594.5 520.6 L1595.0 519.1 L1595.5 518.9 L1596.0 518.8 L1596.5 517.9 L1597.0 520.9 L1597.5 518.6 L1598.0 515.9 L1598.5 516.0 L1599.0 517.7 L1599.5 518.1 L1600.0 520.3 L1600.5 516.0 L1601.0 520.9 L1601.5 522.0 L1602.0 519.2 L1602.5 522.8 L1603.0 519.4 L1603.5 520.5 L1604.0 519.9 L1604.5 523.8 L1605.0 522.9 L1605.5 522.7 L1606.0 518.3 L1606.5 520.4 L1607.0 517.8 L1607.5 519.9 L1608.0 520.5 L1608.5 521.8 L1609.0 518.9 L1609.5 519.6 L1610.0 518.9 L1610.5 517.3 L1611.0 522.6 L1611.5 520.4 L1612.0 522.6 L1612.5 521.7 L1613.0 517.9 L1613.5 519.3 L1614.0 521.8 L1614.5 522.2 L1615.0 521.8 L1615.5 520.3 L1616.0 521.7 L1616.5 518.0 L1617.0 519.1 L1617.5 517.1 L1618.0 520.9 L1618.5 519.6 L1619.0 520.1 L1619.5 518.2 L1620.0 515.5 L1620.5 517.2 L1621.0 519.1 L1621.5 519.1 L1622.0 521.0 L1622.5 521.6 L1623.0 518.7 L1623.5 521.5 L1624.0 517.0 L1624.5 521.6 L1625.0 517.2 L1625.5 521.4 L1626.0 517.2 L1626.5 521.4 L1627.0 523.5 L1627.5 520.2 L1628.0 522.0 L1628.5 522.8 L1629.0 517.6 L1629.5 517.6 L1630.0 520.8 L1630.5 518.5 L1631.0 519.7 L1631.5 523.6 L1632.0 523.6 L1632.5 521.6 L1633.0 519.1 L1633.5 521.6 L1634.0 521.3 L1634.5 520.3 L1635.0 523.7 L1635.5 517.3 L1636.0 523.4 L1636.5 519.5 L1637.0 522.7 L1637.5 520.0 L1638.0 519.3 L1638.5 519.3 L1639.0 521.3 L1639.5 521.9 L1640.0 524.7 L1640.5 524.9 L1641.0 522.0 L1641.5 519.9 L1642.0 522.5 L1642.5 523.3 L1643.0 518.6 L1643.5 521.6 L1644.0 523.6 L1644.5 519.8 L1645.0 517.2 L1645.5 521.3 L1646.0 522.6 L1646.5 518.8 L1647.0 519.4 L1647.5 521.3 L1648.0 520.1 L1648.5 517.9 L1649.0 518.7 L1649.5 519.4 L1650.0 519.8 L1650.5 522.2 L1651.0 518.1 L1651.5 520.9 L1652.0 519.9 L1652.5 517.0 L1653.0 521.9 L1653.5 520.9 L1654.0 518.3 L1654.5 517.7 L1655.0 523.0 L1655.5 524.5 L1656.0 521.7 L1656.5 521.1 L1657.0 523.0 L1657.5 520.3 L1658.0 520.5 L1658.5 523.3 L1659.0 519.1 L1659.5 523.5 L1660.0 521.7 L1660.5 523.5 L1661.0 517.5 L1661.5 523.2 L1662.0 520.4 L1662.5 521.8 L1663.0 519.0 L1663.5 518.7 L1664.0 523.1 L1664.5 521.9 L1665.0 522.1 L1665.5 522.4 L1666.0 522.2 L1666.5 517.8 L1667.0 520.0 L1667.5 519.6 L1668.0 523.1 L1668.5 522.3 L1669.0 517.7 L1669.5 516.3 L1670.0 520.6 L1670.5 520.3 L1671.0 521.9 L1671.5 517.2 L1672.0 522.8 L1672.5 520.3 L1673.0 522.8 L1673.5 521.1 L1674.0 520.0 L1674.5 519.4 L1675.0 523.8 L1675.5 517.9 L1676.0 523.3 L1676.5 522.4 L1677.0 519.5 L1677.5 522.2 L1678.0 520.2 L1678.5 517.7 L1679.0 519.5 L1679.5 521.0 L1680.0 519.8 L1680.5 518.2 L1681.0 521.0 L1681.5 521.0 L1682.0 522.0 L1682.5 520.0 L1683.0 522.5 L1683.5 518.2 L1684.0 518.9 L1684.5 517.1 L1685.0 520.0 L1685.5 520.4 L1686.0 520.4 L1686.5 518.0 L1687.0 522.5 L1687.5 517.2 L1688.0 518.4 L1688.5 516.9 L1689.0 522.0 L1689.5 521.5 L1690.0 519.6 L1690.5 520.8 L1691.0 517.9 L1691.5 518.4 L1692.0 518.9 L1692.5 521.6 L1693.0 520.3 L1693.5 521.4 L1694.0 518.8 L1694.5 518.0 L1695.0 521.2 L1695.5 520.6 L1696.0 520.5 L1696.5 518.1 L1697.0 519.7 L1697.5 516.0 L1698.0 516.9 L1698.5 519.8 L1699.0 517.4 L1699.5 517.0 L1700.0 517.7 L1700.5 522.9 L1701.0 519.0 L1701.5 520.5 L1702.0 519.7 L1702.5 523.2 L1703.0 519.9 L1703.5 522.1 L1704.0 521.9 L1704.5 520.9 L1705.0 520.2 L1705.5 517.2 L1706.0 521.5 L1706.5 523.7 L1707.0 521.8 L1707.5 524.1 L1708.0 522.6 L1708.5 523.0 L1709.0 520.3 L1709.5 520.9 L1710.0 521.9 L1710.5 523.0 L1711.0 518.4 L1711.5 517.3 L1712.0 519.6 L1712.5 519.4 L1713.0 520.3 L1713.5 522.3 L1714.0 518.1 L1714.5 522.4 L1715.0 520.5 L1715.5 519.7 L1716.0 516.6 L1716.5 523.1 L1717.0 523.4 L1717.5 521.3 L1718.0 521.3 L1718.5 519.2 L1719.0 516.6 L1719.5 518.1 L1720.0 516.6 L1720.5 516.7 L1721.0 517.8 L1721.5 518.5 L1722.0 520.9 L1722.5 522.7 L1723.0 519.9 L1723.5 522.0 L1724.0 519.8 L1724.5 519.9 L1725.0 521.2 L1725.5 519.3 L1726.0 521.1 L1726.5 519.7 L1727.0 519.1 L1727.5 519.6 L1728.0 524.1 L1728.5 521.8 L1729.0 520.6 L1729.5 521.9 L1730.0 520.1 L1730.5 520.6 L1731.0 520.7 L1731.5 518.0 L1732.0 520.6 L1732.5 521.6 L1733.0 521.1 L1733.5 520.2 L1734.0 522.5 L1734.5 518.8 L1735.0 522.7 L1735.5 522.7 L1736.0 521.4 L1736.5 524.3 L1737.0 520.1 L1737.5 522.3 L1738.0 521.7 L1738.5 520.6 L1739.0 521.4 L1739.5 522.6 L1740.0 522.3 L1740.5 522.3 L1741.0 519.5 L1741.5 520.2 L1742.0 519.9 L1742.5 518.7 L1743.0 519.8 L1743.5 516.7 L1744.0 517.7 L1744.5 519.1 L1745.0 519.5 L1745.5 521.7" stroke="#000" stroke-width="10"/>
<path d="M257.0 618.4H1747.5" stroke="#ff0000" stroke-width="9"/>
<path d="M638.95 618.4V581.95A4.95 4.95 0 0 1 648.85 581.95V618.4Z M770.35 618.4V573.95A4.95 4.95 0 0 1 780.25 573.95V618.4Z M1198.45 618.4V599.55A4.95 4.95 0 0 1 1208.35 599.55V618.4Z M1473.75 618.4V607.15A4.95 4.95 0 0 1 1483.65 607.15V618.4Z M1561.90 618.4V613.90A5.10 4.70 0 0 1 1572.10 613.90V618.4Z" fill="#ff0000" stroke="none"/>
<path d="M257.0 750.4H1747.5" stroke="#0000ff" stroke-width="9"/>
<path d="M263.60 750.4V725.50A5.00 5.00 0 0 1 273.60 725.50V750.4Z M520.50 750.4V707.20A5.10 5.10 0 0 1 530.70 707.20V750.4Z M588.05 750.4V733.35A5.05 5.05 0 0 1 598.15 733.35V750.4Z M921.60 750.4V745.90A5.10 2.80 0 0 1 931.80 745.90V750.4Z" fill="#0000ff" stroke="none"/>
<path d="M257.0 839.5H1747.5" stroke="#ff00ff" stroke-width="9"/>
<path d="M541.60 839.5V795.70A5.00 5.00 0 0 1 551.60 795.70V839.5Z M656.30 839.5V835.00A5.10 2.90 0 0 1 666.50 835.00V839.5Z M1024.00 839.5V816.20A5.00 5.00 0 0 1 1034.00 816.20V839.5Z M1255.20 839.5V833.50A5.10 5.10 0 0 1 1265.40 833.50V839.5Z M1605.50 839.5V835.00A5.10 2.30 0 0 1 1615.70 835.00V839.5Z" fill="#ff00ff" stroke="none"/>
<path d="M257.0 972.4H1747.5" stroke="#008000" stroke-width="9"/>
<path d="M371.20 972.4V967.90A5.30 2.70 0 0 1 381.80 967.90V972.4Z M467.05 972.4V944.85A5.05 5.05 0 0 1 477.15 944.85V972.4Z M507.55 972.4V963.15A5.15 5.15 0 0 1 517.85 963.15V972.4Z M541.30 972.4V928.20A5.00 5.00 0 0 1 551.30 928.20V972.4Z M568.50 972.4V967.80A5.20 5.20 0 0 1 578.90 967.80V972.4Z M613.55 972.4V951.15A5.05 5.05 0 0 1 623.65 951.15V972.4Z M654.45 972.4V967.90A2.75 1.80 0 0 1 659.95 967.90V972.4Z M684.70 972.4V967.90A5.30 3.70 0 0 1 695.30 967.90V972.4Z M714.65 972.4V967.90A2.75 1.90 0 0 1 720.15 967.90V972.4Z M753.40 972.4V966.30A5.30 5.30 0 0 1 764.00 966.30V972.4Z M809.70 972.4V967.90A5.30 5.10 0 0 1 820.30 967.90V972.4Z M879.40 972.4V967.60A5.30 5.30 0 0 1 890.00 967.60V972.4Z M908.85 972.4V967.90A2.75 1.80 0 0 1 914.35 967.90V972.4Z M918.25 972.4V967.90A2.75 1.90 0 0 1 923.75 967.90V972.4Z M941.45 972.4V966.05A6.75 6.75 0 0 1 954.95 966.05V972.4Z M997.30 972.4V967.90A5.20 2.70 0 0 1 1007.70 967.90V972.4Z M1013.25 972.4V967.90A2.75 1.80 0 0 1 1018.75 967.90V972.4Z M1024.75 972.4V967.90A5.25 1.70 0 0 1 1035.25 967.90V972.4Z M1061.95 972.4V967.90A2.75 1.90 0 0 1 1067.45 967.90V972.4Z M1085.25 972.4V967.90A2.75 1.70 0 0 1 1090.75 967.90V972.4Z M1091.85 972.4V967.90A2.75 1.70 0 0 1 1097.35 967.90V972.4Z M1143.62 972.4V967.90A3.38 1.60 0 0 1 1150.38 967.90V972.4Z M1157.25 972.4V967.90A2.75 1.70 0 0 1 1162.75 967.90V972.4Z M1167.65 972.4V967.90A5.85 2.60 0 0 1 1179.35 967.90V972.4Z M1195.25 972.4V967.90A2.75 1.70 0 0 1 1200.75 967.90V972.4Z M1216.30 972.4V967.90A5.20 2.40 0 0 1 1226.70 967.90V972.4Z M1235.25 972.4V967.90A2.75 1.70 0 0 1 1240.75 967.90V972.4Z M1271.75 972.4V967.90A5.25 1.40 0 0 1 1282.25 967.90V972.4Z M1299.75 972.4V967.90A5.25 1.40 0 0 1 1310.25 967.90V972.4Z M1328.25 972.4V967.90A2.75 1.70 0 0 1 1333.75 967.90V972.4Z M1339.62 972.4V967.90A3.38 1.50 0 0 1 1346.38 967.90V972.4Z M1432.00 972.4V967.90A4.00 1.80 0 0 1 1440.00 967.90V972.4Z M1457.00 972.4V967.90A4.00 1.80 0 0 1 1465.00 967.90V972.4Z M1534.25 972.4V967.90A2.75 1.70 0 0 1 1539.75 967.90V972.4Z M1556.62 972.4V967.90A3.38 1.70 0 0 1 1563.38 967.90V972.4Z M1581.25 972.4V967.90A2.75 1.70 0 0 1 1586.75 967.90V972.4Z M1623.25 972.4V967.90A2.75 1.70 0 0 1 1628.75 967.90V972.4Z M1668.62 972.4V967.90A3.38 1.80 0 0 1 1675.38 967.90V972.4Z M1717.25 972.4V967.90A2.75 1.70 0 0 1 1722.75 967.90V972.4Z" fill="#008000" stroke="none"/>
<path d="M257.0 1105.5H1747.5" stroke="#000080" stroke-width="9"/>
<path d="M282.40 1105.5V1066.40A5.00 5.00 0 0 1 292.40 1066.40V1105.5Z M325.72 1105.5V1100.68A6.48 6.48 0 0 1 338.68 1100.68V1105.5Z M454.00 1105.5V1094.50A5.20 5.20 0 0 1 464.40 1094.50V1105.5Z M486.05 1105.5V1069.95A5.05 5.05 0 0 1 496.15 1069.95V1105.5Z M503.95 1105.5V1061.15A5.05 5.05 0 0 1 514.05 1061.15V1105.5Z M553.60 1105.5V1092.50A5.20 5.20 0 0 1 564.00 1092.50V1105.5Z M595.30 1105.5V1097.80A5.30 5.30 0 0 1 605.90 1097.80V1105.5Z M614.70 1105.5V1086.40A5.10 5.10 0 0 1 624.90 1086.40V1105.5Z M669.30 1105.5V1099.00A5.30 5.30 0 0 1 679.90 1099.00V1105.5Z M678.00 1105.5V1101.00A5.30 4.30 0 0 1 688.60 1101.00V1105.5Z M699.25 1105.5V1101.00A2.75 1.00 0 0 1 704.75 1101.00V1105.5Z M738.25 1105.5V1101.00A2.75 1.80 0 0 1 743.75 1101.00V1105.5Z M751.90 1105.5V1101.00A5.30 2.50 0 0 1 762.50 1101.00V1105.5Z M788.05 1105.5V1101.00A2.75 1.40 0 0 1 793.55 1101.00V1105.5Z M841.65 1105.5V1101.00A2.75 1.40 0 0 1 847.15 1101.00V1105.5Z M851.55 1105.5V1101.00A2.75 1.40 0 0 1 857.05 1101.00V1105.5Z M863.95 1105.5V1100.05A5.85 5.85 0 0 1 875.65 1100.05V1105.5Z M900.65 1105.5V1101.00A2.75 1.80 0 0 1 906.15 1101.00V1105.5Z M1034.60 1105.5V1101.00A5.20 2.50 0 0 1 1045.00 1101.00V1105.5Z M1055.70 1105.5V1101.00A5.30 2.50 0 0 1 1066.30 1101.00V1105.5Z M1072.25 1105.5V1101.00A2.75 1.70 0 0 1 1077.75 1101.00V1105.5Z M1079.25 1105.5V1101.00A2.75 2.20 0 0 1 1084.75 1101.00V1105.5Z M1083.30 1105.5V1101.00A5.20 2.70 0 0 1 1093.70 1101.00V1105.5Z M1097.65 1105.5V1101.00A5.85 4.30 0 0 1 1109.35 1101.00V1105.5Z M1125.25 1105.5V1101.00A2.75 1.50 0 0 1 1130.75 1101.00V1105.5Z M1130.00 1105.5V1101.00A4.00 2.00 0 0 1 1138.00 1101.00V1105.5Z M1178.38 1105.5V1101.00A4.62 1.50 0 0 1 1187.62 1101.00V1105.5Z M1210.25 1105.5V1101.00A2.75 1.40 0 0 1 1215.75 1101.00V1105.5Z M1221.50 1105.5V1101.00A3.00 2.20 0 0 1 1227.50 1101.00V1105.5Z M1259.25 1105.5V1101.00A2.75 1.50 0 0 1 1264.75 1101.00V1105.5Z M1279.25 1105.5V1101.00A2.75 1.40 0 0 1 1284.75 1101.00V1105.5Z M1305.62 1105.5V1101.00A3.38 1.40 0 0 1 1312.38 1101.00V1105.5Z M1326.25 1105.5V1101.00A2.75 1.40 0 0 1 1331.75 1101.00V1105.5Z M1356.25 1105.5V1101.00A2.75 1.40 0 0 1 1361.75 1101.00V1105.5Z M1370.25 1105.5V1101.00A2.75 1.40 0 0 1 1375.75 1101.00V1105.5Z M1393.25 1105.5V1101.00A2.75 1.20 0 0 1 1398.75 1101.00V1105.5Z M1402.25 1105.5V1101.00A2.75 2.20 0 0 1 1407.75 1101.00V1105.5Z M1402.26 1105.5V1101.00A2.75 2.20 0 0 1 1407.76 1101.00V1105.5Z M1424.12 1105.5V1101.00A3.38 1.50 0 0 1 1430.88 1101.00V1105.5Z M1448.25 1105.5V1101.00A2.75 1.40 0 0 1 1453.75 1101.00V1105.5Z M1457.25 1105.5V1101.00A2.75 1.40 0 0 1 1462.75 1101.00V1105.5Z M1471.25 1105.5V1101.00A2.75 1.40 0 0 1 1476.75 1101.00V1105.5Z M1478.25 1105.5V1101.00A2.75 1.40 0 0 1 1483.75 1101.00V1105.5Z M1488.25 1105.5V1101.00A2.75 1.40 0 0 1 1493.75 1101.00V1105.5Z M1504.25 1105.5V1101.00A2.75 1.40 0 0 1 1509.75 1101.00V1105.5Z M1525.25 1105.5V1101.00A2.75 1.40 0 0 1 1530.75 1101.00V1105.5Z M1538.25 1105.5V1101.00A2.75 1.40 0 0 1 1543.75 1101.00V1105.5Z M1556.00 1105.5V1101.00A4.00 1.50 0 0 1 1564.00 1101.00V1105.5Z M1572.25 1105.5V1101.00A2.75 1.50 0 0 1 1577.75 1101.00V1105.5Z M1587.25 1105.5V1101.00A2.75 1.50 0 0 1 1592.75 1101.00V1105.5Z M1600.25 1105.5V1101.00A2.75 1.50 0 0 1 1605.75 1101.00V1105.5Z M1612.25 1105.5V1101.00A2.75 1.50 0 0 1 1617.75 1101.00V1105.5Z M1636.00 1105.5V1101.00A4.00 1.50 0 0 1 1644.00 1101.00V1105.5Z M1652.25 1105.5V1101.00A2.75 1.50 0 0 1 1657.75 1101.00V1105.5Z M1664.25 1105.5V1101.00A2.75 1.50 0 0 1 1669.75 1101.00V1105.5Z M1687.25 1105.5V1101.00A2.75 1.50 0 0 1 1692.75 1101.00V1105.5Z M1699.25 1105.5V1101.00A2.75 1.50 0 0 1 1704.75 1101.00V1105.5Z M1717.25 1105.5V1101.00A2.75 1.50 0 0 1 1722.75 1101.00V1105.5Z M1730.25 1105.5V1101.00A2.75 1.50 0 0 1 1735.75 1101.00V1105.5Z" fill="#000080" stroke="none"/>
</g>
<path d="M461.0 42.4V1148.0 M489.0 42.4V1148.0 M528.0 42.4V1148.0 M546.0 42.4V1148.0 M595.0 42.4V1148.0 M675.0 42.4V1148.0 M869.0 42.4V1148.0" stroke="#000" stroke-width="2" stroke-dasharray="4.6 2.25" fill="none"/>
<g font-size="37" text-anchor="middle">
<text transform="translate(675.9 564.2) rotate(-90)"><tspan dy="-3.4">(</tspan><tspan dy="3.4">111</tspan><tspan dy="-3.4">)</tspan></text>
<text transform="translate(813.5 565) rotate(-90)"><tspan dy="-3.4">(</tspan><tspan dy="3.4">200</tspan><tspan dy="-3.4">)</tspan></text>
<text transform="translate(1236.7 564.1) rotate(-90)"><tspan dy="-3.4">(</tspan><tspan dy="3.4">220</tspan><tspan dy="-3.4">)</tspan></text>
<text transform="translate(1509.5 565.4) rotate(-90)"><tspan dy="-3.4">(</tspan><tspan dy="3.4">311</tspan><tspan dy="-3.4">)</tspan></text>
<text transform="translate(538.0 656.1) rotate(-90)"><tspan dy="-3.4">(</tspan><tspan dy="3.4">101</tspan><tspan dy="-3.4">)</tspan></text>
<text transform="translate(605.3 680.6) rotate(-90)"><tspan dy="-3.4">(</tspan><tspan dy="3.4">110</tspan><tspan dy="-3.4">)</tspan></text>
<text transform="translate(581.3 785.2) rotate(-90)"><tspan dy="-3.4">(</tspan><tspan dy="3.4">111</tspan><tspan dy="-3.4">)</tspan></text>
<text transform="translate(579.6 915.1) rotate(-90)"><tspan dy="-3.4">(</tspan><tspan dy="3.4">220</tspan><tspan dy="-3.4">)</tspan></text>
<text transform="translate(447.6 1040.2) rotate(-90)"><tspan dy="-3.4">(</tspan><tspan dy="3.4">111</tspan><tspan dy="-3.4">)</tspan></text>
<text transform="translate(485.5 1010.5) rotate(-90)"><tspan dy="-3.4">(</tspan><tspan dy="3.4">−202</tspan><tspan dy="-3.4">)</tspan></text>
<text transform="translate(665.0 1040.5) rotate(-90)"><tspan dy="-3.4">(</tspan><tspan dy="3.4">310</tspan><tspan dy="-3.4">)</tspan></text>
<text transform="translate(853.9 1045.4) rotate(-90)"><tspan dy="-3.4">(</tspan><tspan dy="3.4">311</tspan><tspan dy="-3.4">)</tspan></text>
</g>
<line x1="1070.6" x2="1176.4" y1="80.5" y2="80.5" stroke="#000" stroke-width="9.5" stroke-linecap="round"/>
<text x="1188.6" y="95.7" font-size="47">LiH Polycrystal</text>
<line x1="1070.6" x2="1176.4" y1="139.4" y2="139.4" stroke="#ff0000" stroke-width="9.5" stroke-linecap="round"/>
<text x="1188.6" y="154.6" font-size="47">LiH-PDF#74-2431</text>
<line x1="1070.6" x2="1176.4" y1="197.4" y2="197.4" stroke="#0000ff" stroke-width="9.5" stroke-linecap="round"/>
<text x="1188.6" y="212.6" font-size="47">LiOH-PDF#85-1064</text>
<line x1="1070.6" x2="1176.4" y1="256.3" y2="256.3" stroke="#ff00ff" stroke-width="9.5" stroke-linecap="round"/>
<text x="1188.6" y="271.5" font-size="47">Li<tspan class="sb" dy="13.9" font-size="33">2</tspan><tspan dy="-13.9">O-PDF#77-2144</tspan></text>
<line x1="1070.6" x2="1176.4" y1="326" y2="326" stroke="#008000" stroke-width="9.5" stroke-linecap="round"/>
<text x="1188.6" y="341.2" font-size="47">LiOH(H<tspan dy="13.9" dx="0.5" font-size="33">2</tspan><tspan dy="-13.9" dx="0">O)-PDF#76-1074</tspan></text>
<line x1="1070.6" x2="1176.4" y1="397.4" y2="397.4" stroke="#000080" stroke-width="9.5" stroke-linecap="round"/>
<text x="1188.6" y="412.6" font-size="47">Li<tspan dy="13.9" font-size="33">2</tspan><tspan dy="-13.9" dx="0">CO</tspan><tspan dy="13.9" dx="-1" font-size="33">3</tspan><tspan dy="-13.9" dx="2.5">-PDF#87-0729</tspan></text>
</svg>
</body></html>
